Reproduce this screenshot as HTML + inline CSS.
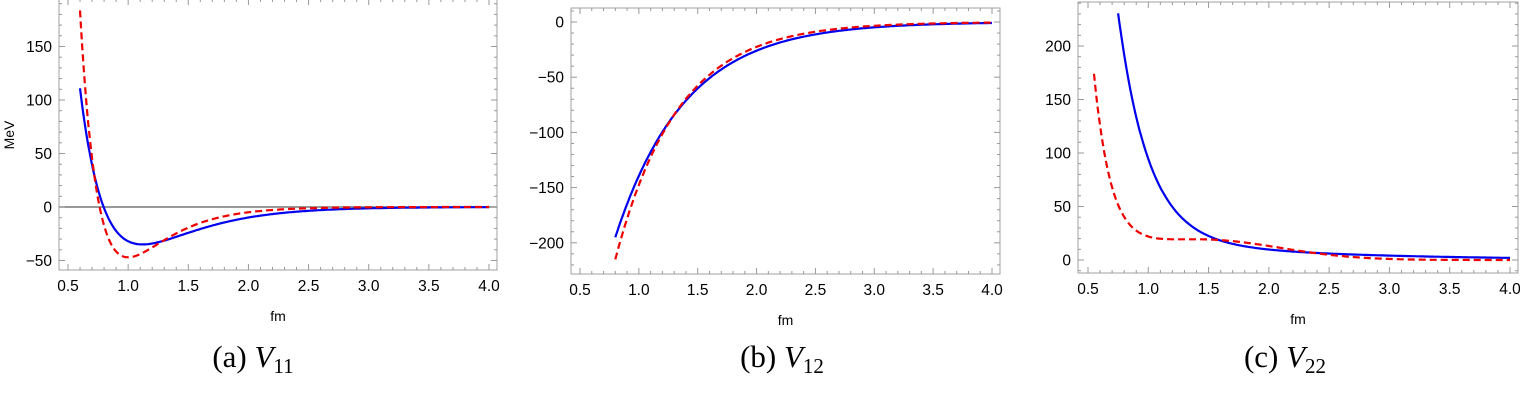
<!DOCTYPE html>
<html><head><meta charset="utf-8"><style>
body{margin:0;background:#fff;width:1520px;height:393px;overflow:hidden}
.t{font-family:"Liberation Sans",sans-serif}
.c{font-family:"Liberation Serif",serif}
</style></head><body>
<svg id="s" width="1520" height="393" xmlns="http://www.w3.org/2000/svg"></svg>
<script>
const s=document.getElementById('s');let out='';
function panel(p){
 const X=x=>p.x0+(x-0.5)*(p.x1-p.x0)/3.5;
 const Y=y=>p.y0+(y)*(p.yb-p.y0)/p.yv;
 out+=`<rect x="${p.L}" y="${p.T}" width="${p.R-p.L}" height="${p.B-p.T}" fill="none" stroke="#a0a0a0" stroke-width="1"/>`;
 if(p.zero) out+=`<line x1="${p.L}" x2="${p.R}" y1="${Y(0)}" y2="${Y(0)}" stroke="#777" stroke-width="1.5"/>`;
 for(let i=5;i<=40;i++){const x=X(i/10);if(x<p.L||x>p.R)continue;const l=i%5==0?6:3;
  out+=`<line x1="${x}" x2="${x}" y1="${p.B}" y2="${p.B-l}" stroke="#999"/><line x1="${x}" x2="${x}" y1="${p.T}" y2="${p.T+l}" stroke="#999"/>`;
  if(i%5==0) out+=`<text class="t" x="${x}" y="${p.B+21}" font-size="15.5" text-anchor="middle">${(i/10).toFixed(1)}</text>`;}
 for(let v=-300;v<=300;v+=10){const y=Y(v);if(y<p.T||y>p.B)continue;const l=v%50==0?6:3;
  out+=`<line x1="${p.L}" x2="${p.L+l}" y1="${y}" y2="${y}" stroke="#999"/><line x1="${p.R}" x2="${p.R-l}" y1="${y}" y2="${y}" stroke="#999"/>`;
  if(v%50==0) out+=`<text class="t" x="${p.L-7}" y="${y+5.5}" font-size="15.5" text-anchor="end">${v<0?'\u2212'+(-v):v}</text>`;}
 out+=`<text class="t" x="${(p.L+p.R)/2}" y="${p.B+51}" font-size="14" text-anchor="middle">fm</text>`;
 for(const c of p.curves){let d='';for(let r=c.a;r<=4.0001;r+=0.01){d+=(d?'L':'M')+X(r).toFixed(1)+','+Y(c.f(r)).toFixed(1);}
  out+=`<path d="${d}" fill="none" stroke="${c.col}" stroke-width="2.2" ${c.dash?'stroke-dasharray="7,4"':''}/>`;}
}
const morse=(D,r0,a)=>r=>{const e=Math.exp(-a*(r-r0));return D*((1-e)*(1-e)-1)};
panel({L:59,R:497,T:-1,B:270,x0:68,x1:489,y0:207,yb:153.5,yv:50,zero:1,curves:[
 {a:0.6,col:'#0000ee',f:morse(35,1.12,2.14)},{a:0.6,col:'#ee0000',dash:1,f:morse(47,1.0,2.92)}]});
panel({L:571,R:1000,T:8,B:274,x0:580,x1:992,y0:22,yb:77.2,yv:-50,curves:[
 {a:0.8,col:'#0000ee',f:r=>-195*Math.exp(-1.68*(r-0.8))},{a:0.8,col:'#ee0000',dash:1,f:r=>-215*Math.exp(-1.88*(r-0.8))}]});
panel({L:1078,R:1518,T:2,B:273,x0:1088,x1:1510,y0:260,yb:206.5,yv:50,curves:[
 {a:0.75,col:'#0000ee',f:r=>210*Math.exp(-4*(r-0.75))+12*Math.exp(-0.72*(r-1.5))},
 {a:0.55,col:'#ee0000',dash:1,f:r=>167*Math.exp(-7*(r-0.55))+19*Math.exp(-Math.pow((r-1.45)/0.9,2))}]});
out+=`<text class="t" transform="translate(14,135) rotate(-90)" font-size="14" text-anchor="middle">MeV</text>`;
const cap=(cx,sub,l)=>`<text class="c" x="${cx}" y="367" font-size="31" text-anchor="middle">(${l}) <tspan font-style="italic">V</tspan><tspan font-size="21" dy="6">${sub}</tspan></text>`;
out+=cap(253,'11','a')+cap(782,'12','b')+cap(1285,'22','c');
s.innerHTML=out;
</script>
</body></html>
